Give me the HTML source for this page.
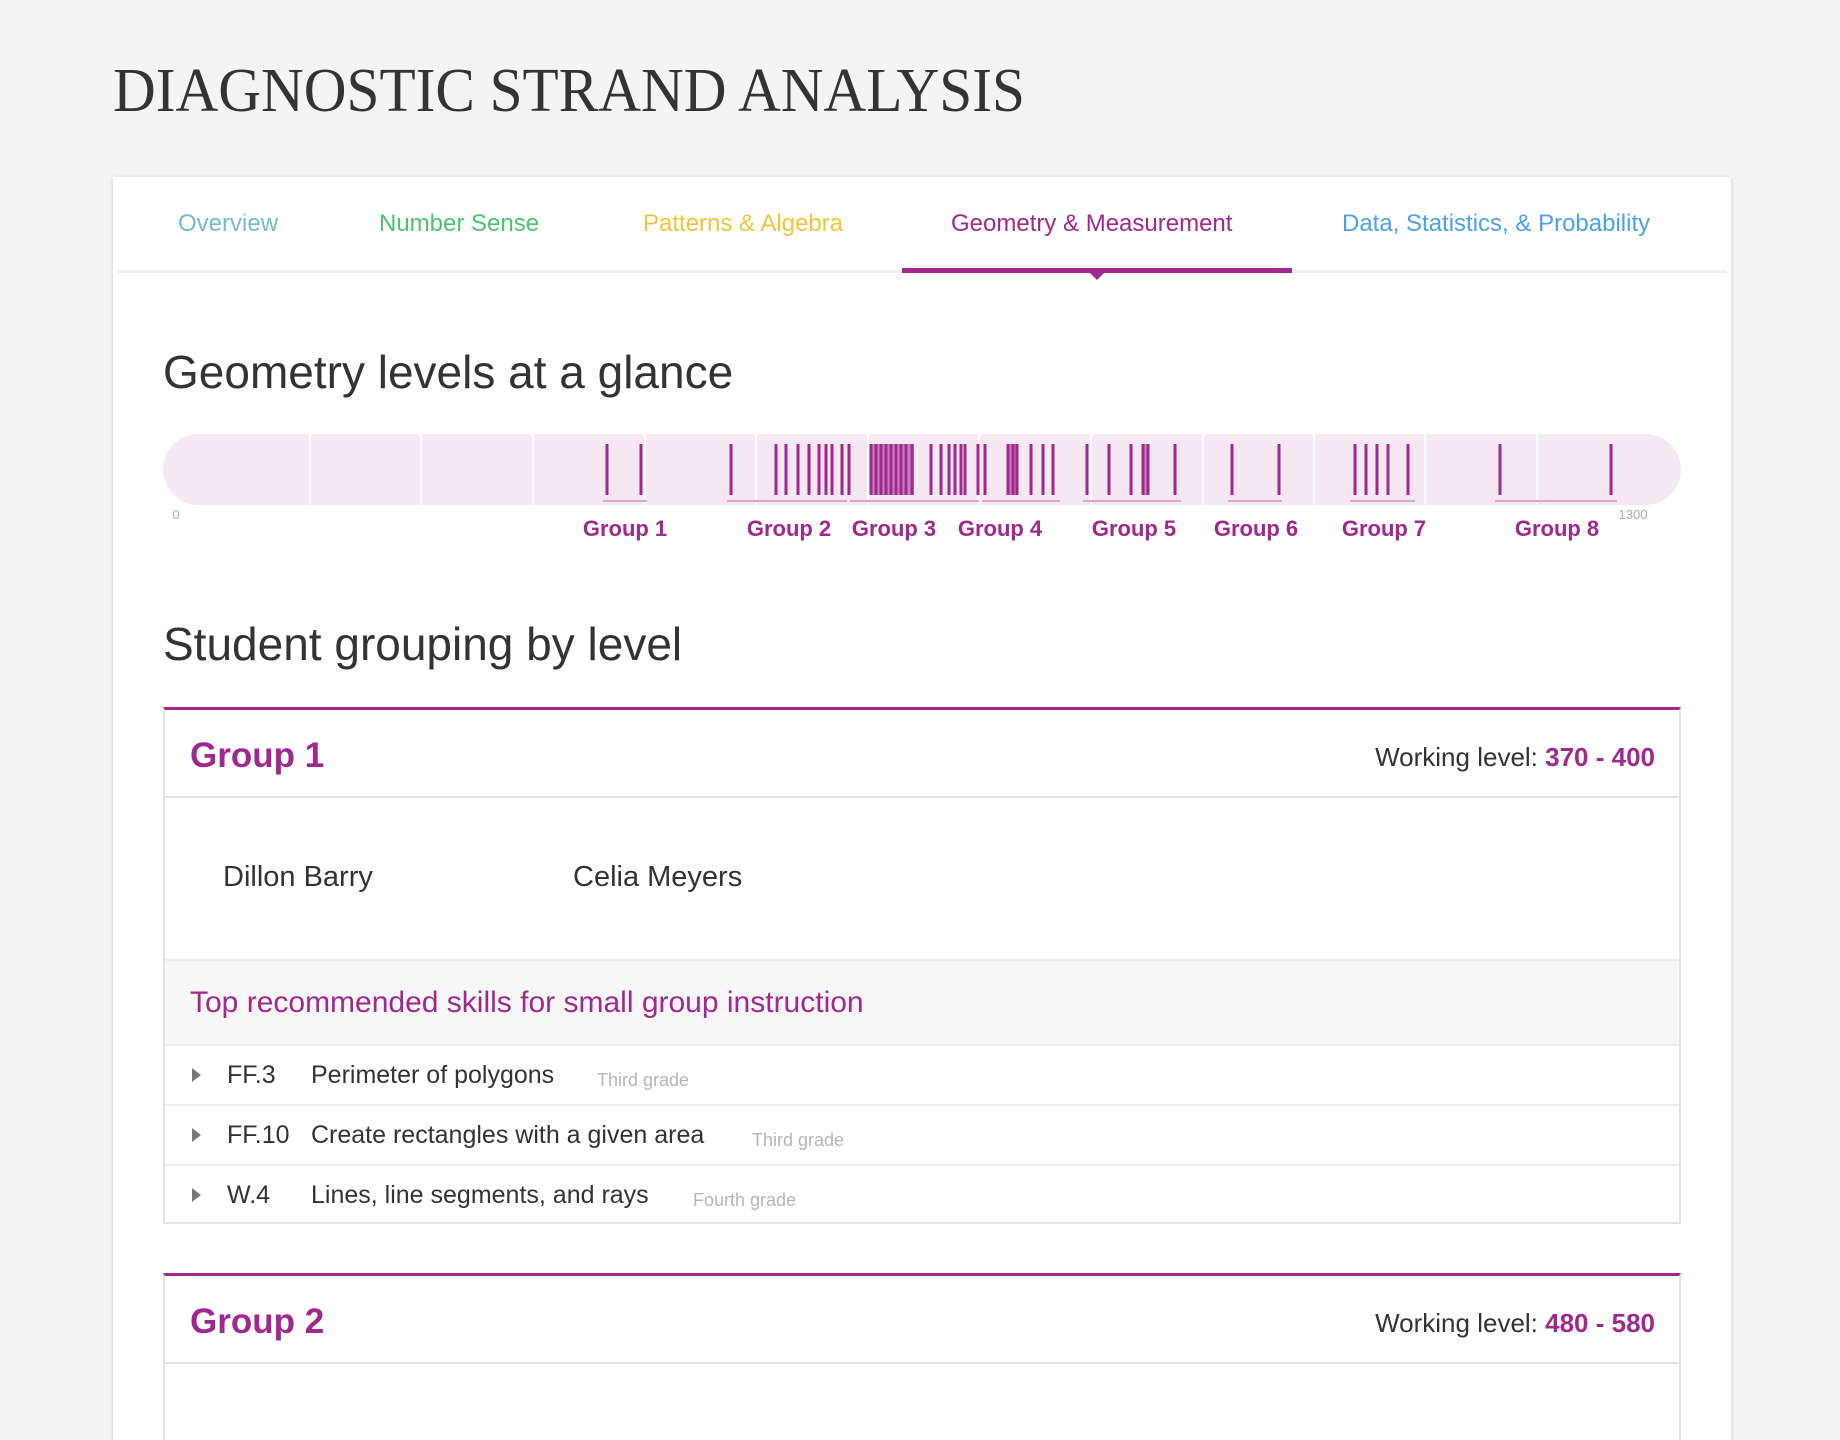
<!DOCTYPE html>
<html><head><meta charset="utf-8"><style>
*{margin:0;padding:0;box-sizing:border-box}
html,body{width:1840px;height:1440px;overflow:hidden}
body{background:#f4f4f4;position:relative;font-family:"Liberation Sans",sans-serif;color:#333}
.a{position:absolute;white-space:nowrap}
h1{position:absolute;left:113px;top:60px;font-family:"Liberation Serif",serif;font-weight:normal;font-size:62px;line-height:62px;color:#333;transform:scaleX(0.955);transform-origin:0 0;white-space:nowrap}
.card{position:absolute;left:113px;top:177px;width:1618px;height:1263px;background:#fff;box-shadow:0 1px 4px rgba(0,0,0,0.2)}
.tab{position:absolute;top:210px;font-size:24px;line-height:28px}
.h2{font-size:46px;line-height:50px;font-weight:300;color:#333}
.gl{position:absolute;top:516px;font-size:22px;font-weight:bold;color:#a0288f;transform:translateX(-50%)}
.box{position:absolute;left:163px;width:1518px;border:2px solid #e2e2e2;border-top:3px solid #a0288f;background:#fff}
.row{position:absolute;left:0;right:0;height:60px;border-top:2px solid #ececec;font-size:25px}
.row span{position:absolute;top:15px;line-height:28px}
.tri{width:0;height:0;border-top:7px solid transparent;border-bottom:7px solid transparent;border-left:9px solid #777;position:absolute;left:27px;top:22px}
.gr{font-size:18px;color:#b5b5b5;top:20px!important}
</style></head><body>
<h1>DIAGNOSTIC STRAND ANALYSIS</h1>
<div class="card"></div>
<div class="a" style="left:117px;top:270px;width:1610px;height:3px;background:#f0f0f0"></div>
<div class="tab a" style="left:178px;color:#6fbfc4">Overview</div>
<div class="tab a" style="left:379px;color:#4cc46f">Number Sense</div>
<div class="tab a" style="left:643px;color:#f0c53a">Patterns &amp; Algebra</div>
<div class="tab a" style="left:951px;color:#a0288f">Geometry &amp; Measurement</div>
<div class="tab a" style="left:1342px;color:#4aa3e8">Data, Statistics, &amp; Probability</div>
<div class="a" style="left:902px;top:268px;width:390px;height:5px;background:#a0288f"></div>
<div class="a" style="left:1089px;top:272px;width:0;height:0;border-left:8px solid transparent;border-right:8px solid transparent;border-top:8px solid #a0288f"></div>
<div class="a h2" style="left:163px;top:347px">Geometry levels at a glance</div>
<svg class="a" style="left:0;top:0" width="1840" height="600">
<rect x="163" y="434" width="1518" height="71" rx="35.5" fill="#f5e8f2"/>
<g stroke="#fff" stroke-width="2">
<line x1="310" y1="434" x2="310" y2="505"/><line x1="421" y1="434" x2="421" y2="505"/><line x1="533" y1="434" x2="533" y2="505"/><line x1="645" y1="434" x2="645" y2="505"/><line x1="756" y1="434" x2="756" y2="505"/><line x1="868" y1="434" x2="868" y2="505"/><line x1="979" y1="434" x2="979" y2="505"/><line x1="1091" y1="434" x2="1091" y2="505"/><line x1="1203" y1="434" x2="1203" y2="505"/><line x1="1314" y1="434" x2="1314" y2="505"/><line x1="1425" y1="434" x2="1425" y2="505"/><line x1="1537" y1="434" x2="1537" y2="505"/>
</g>
<rect x="870" y="444" width="44" height="51" fill="#c77fbc"/>
<rect x="1007" y="444" width="11" height="51" fill="#c77fbc"/>
<rect x="1142" y="444" width="7" height="51" fill="#c77fbc"/>
<g stroke="#a0288f" stroke-width="3">
<path d="M607 444V495M641 444V495M731 444V495M776 444V495M786 444V495M798 444V495M809 444V495M819 444V495M826 444V495M832 444V495M842 444V495M849 444V495M871 444V495M876 444V495M881 444V495M886 444V495M891 444V495M896 444V495M901 444V495M906 444V495M912 444V495M931 444V495M941 444V495M949 444V495M955 444V495M961 444V495M965 444V495M978 444V495M985 444V495M1008 444V495M1013 444V495M1017 444V495M1031 444V495M1043 444V495M1053 444V495M1087 444V495M1109 444V495M1131 444V495M1143 444V495M1148 444V495M1175 444V495M1232 444V495M1279 444V495M1355 444V495M1366 444V495M1377 444V495M1388 444V495M1408 444V495M1500 444V495M1611 444V495"/>
</g>
<g stroke="#d9a6d0" stroke-width="2">
<path d="M603 501H647M727 501H847M850 501H979M982 501H1060M1083 501H1181M1228 501H1282M1350 501H1415M1495 501H1617"/>
</g>
<text x="176" y="519" font-size="13" fill="#aaa" text-anchor="middle" font-family="Liberation Sans">0</text>
<text x="1633" y="519" font-size="13" fill="#aaa" text-anchor="middle" font-family="Liberation Sans">1300</text>
</svg>
<div class="gl" style="left:625px">Group 1</div>
<div class="gl" style="left:789px">Group 2</div>
<div class="gl" style="left:894px">Group 3</div>
<div class="gl" style="left:1000px">Group 4</div>
<div class="gl" style="left:1134px">Group 5</div>
<div class="gl" style="left:1256px">Group 6</div>
<div class="gl" style="left:1384px">Group 7</div>
<div class="gl" style="left:1557px">Group 8</div>
<div class="a h2" style="left:163px;top:619px">Student grouping by level</div>

<div class="box" style="top:707px;height:517px">
 <div class="a" style="left:25px;top:26px;font-size:35px;font-weight:bold;color:#a0288f">Group 1</div>
 <div class="a" style="right:24px;top:32px;font-size:26px;color:#333">Working level: <b style="color:#a0288f">370 - 400</b></div>
 <div class="a" style="left:0;right:0;top:86px;height:2px;background:#e2e2e2"></div>
 <div class="a" style="left:58px;top:151px;font-size:29px">Dillon Barry</div>
 <div class="a" style="left:408px;top:151px;font-size:29px">Celia Meyers</div>
 <div class="a" style="left:0;right:0;top:249px;height:85px;background:#f7f7f7;border-top:2px solid #ececec"></div>
 <div class="a" style="left:25px;top:276px;font-size:30px;color:#a0288f">Top recommended skills for small group instruction</div>
 <div class="row" style="top:334px"><div class="tri"></div><span style="left:62px">FF.3</span><span style="left:146px">Perimeter of polygons</span><span class="gr" style="left:432px">Third grade</span></div>
 <div class="row" style="top:394px"><div class="tri"></div><span style="left:62px">FF.10</span><span style="left:146px">Create rectangles with a given area</span><span class="gr" style="left:587px">Third grade</span></div>
 <div class="row" style="top:454px"><div class="tri"></div><span style="left:62px">W.4</span><span style="left:146px">Lines, line segments, and rays</span><span class="gr" style="left:528px">Fourth grade</span></div>
</div>

<div class="box" style="top:1273px;height:167px;border-bottom:none">
 <div class="a" style="left:25px;top:26px;font-size:35px;font-weight:bold;color:#a0288f">Group 2</div>
 <div class="a" style="right:24px;top:32px;font-size:26px;color:#333">Working level: <b style="color:#a0288f">480 - 580</b></div>
 <div class="a" style="left:0;right:0;top:86px;height:2px;background:#e2e2e2"></div>
</div>
</body></html>
